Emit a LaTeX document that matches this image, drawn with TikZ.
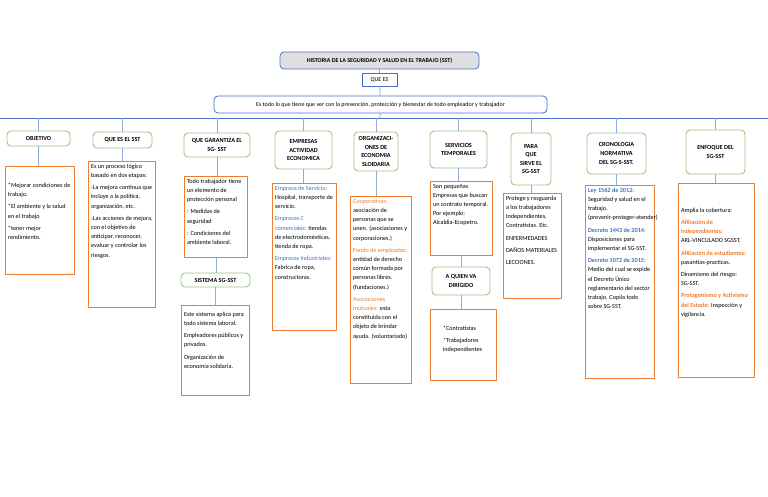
\documentclass[tikz,border=0pt]{standalone}
\usepackage{fontspec}
\setmainfont{Carlito}
\definecolor{bl}{RGB}{68,114,196}
\definecolor{og}{RGB}{237,125,49}
\definecolor{gr}{RGB}{112,173,71}
\definecolor{lbl}{RGB}{143,170,220}
\begin{document}
\begin{tikzpicture}[x=1pt,y=-1pt,
 hd/.style={draw=gr!70,line width=0.9pt,rounded corners=4pt,fill=white,font=\fontsize{6.2}{8.6}\selectfont\bfseries,align=center,inner sep=1pt},
 ob/.style={draw=og,line width=1pt,fill=white,font=\fontsize{6.2}{9.2}\selectfont,inner sep=2.5pt,anchor=north west},
 cn/.style={draw=lbl,line width=0.8pt},
 bx/.style={draw=bl,line width=0.8pt,fill=white,font=\fontsize{6}{7}\selectfont,align=center}]
\useasboundingbox (0,0) rectangle (768,497);
\newcommand{\B}[1]{\textcolor{bl}{#1}}
\newcommand{\Ob}[1]{\textcolor{og}{#1}}
\newcommand{\Tb}[3]{\parbox[t][#2pt][t]{#1pt}{\raggedright\hyphenpenalty=10000\exhyphenpenalty=10000 #3}}
% top
\node[bx,fill=gray!25,rounded corners=4pt,minimum width=199,minimum height=17,font=\fontsize{6}{7}\selectfont\bfseries] (title) at (379.5,60.5) {HISTORIA DE LA SEGURIDAD Y SALUD EN EL TRABAJO (SST)};
\node[bx,minimum width=35,minimum height=13] (quees) at (379.5,79.5) {QUE ES};
\node[bx,rounded corners=4pt,minimum width=333,minimum height=17] (desc) at (380.5,104.5) {Es todo lo que tiene que ver con la prevención, protección y bienestar de todo empleador y trabajador};
\draw[cn] (title) -- (quees); \draw[cn] (quees) -- (desc);
\coordinate (bus) at (380,118);
\coordinate (bl) at (0,118); \coordinate (br) at (768,118);
\draw[draw=bl,line width=0.8pt] (bl) -- (br);
\draw[cn] (desc) -- (bus);
% headers
\node[hd,minimum width=63,minimum height=15] (h1) at (38.5,138.5) {OBJETIVO};
\node[hd,minimum width=59,minimum height=16] (h2) at (122.5,140) {QUE ES EL SST};
\node[hd,minimum width=66,minimum height=24] (h3) at (217,145) {QUE GARANTIZA EL\\SG- SST};
\node[hd,minimum width=57,minimum height=38] (h4) at (303.5,150) {EMPRESAS\\ACTIVIDAD\\ECONOMICA};
\node[hd,minimum width=44,minimum height=39] (h5) at (376,151.5) {ORGANIZACI-\\ONES DE\\ECONOMIA\\SLOIDARIA};
\node[hd,minimum width=57,minimum height=37] (h6) at (458.5,149.5) {SERVICIOS\\TEMPORALES};
\node[hd,minimum width=40,minimum height=52] (h7) at (531,159) {PARA\\QUE\\SIRVE EL\\SG-SST};
\node[hd,minimum width=59,minimum height=41] (h8) at (616.5,153.5) {CRONOLOGIA\\NORMATIVA\\DEL SG-S-SST.};
\node[hd,minimum width=59,minimum height=44] (h9) at (715.5,152) {ENFOQUE DEL\\SG-SST};
\foreach \h in {h1,h2,h3,h4,h5,h6,h7,h8,h9}{\coordinate (t\h) at (\h.north|-bus); \draw[draw=bl!60,line width=0.8pt] (t\h) -- (\h.north);}
% bodies
\node[ob] (b1) at (5,166) {\Tb{64}{103}{\vspace*{14pt}*Mejorar condiciones de trabajo.\\[3pt]*El ambiente y la salud en el trabajo\\[3pt]*tener mejor rendimiento.}};
\node[ob] (b2) at (88,161) {\Tb{62}{141}{Es un proceso lógico basado en dos etapas:\\[3pt]\textcolor{red}{›}La mejora continua que incluye a la política, organización, etc.\\[3pt]\textcolor{red}{›}Las acciones de mejora, con el objetivo de anticipar, reconocer, evaluar y controlar los riesgos.}};
\node[ob] (b3) at (184,176) {\Tb{58}{76}{Todo trabajador tiene un elemento de protección personal\\[3pt]: Medidas de seguridad\\[3pt]: Condiciones del ambiente laboral.}};
\node[hd,minimum width=69,minimum height=14] (h3b) at (215.5,280) {SISTEMA SG-SST};
\node[ob] (b3b) at (181,305) {\Tb{63}{85}{\vspace*{4pt}Este sistema aplica para todo sistema laboral.\\[3pt]Empleadores públicos y privados.\\[3pt]Organización de economía solidaria.}};
\node[ob] (b4) at (272,183) {\Tb{59}{142}{\B{Empresa de Servicio:} Hospital, transporte de servicio.\\[3pt]\B{Empresas C comerciales:} tiendas de electrodomésticas, tienda de ropa.\\[3pt]\B{Empresas Industriales:} Fabrica de ropa, constructoras.}};
\node[ob] (b5) at (350,196) {\Tb{56}{182}{\Ob{Cooperativas:} asociación de personas que se unen. (asociaciones y corporaciones.)\\[3pt]\Ob{Fondo de empleados:} entidad de derecho común formada por personas libres. (fundaciones.)\\[3pt]\Ob{Asociaciones mutuales:} esta constituida con el objeto de brindar ayuda. (voluntariado)}};
\node[ob] (b6) at (430,181) {\Tb{57}{69}{Son pequeñas Empresas que buscan un contrato temporal. Por ejemplo: Alcaldia-Ecopetro.}};
\node[hd,minimum width=58,minimum height=28] (h6b) at (461,281) {A QUIEN VA\\DIRIGIDO};
\node[ob] (b6b) at (430,309) {\Tb{61}{66}{\vspace*{14pt}\hspace*{10pt}*Contratistas\\[3pt]\hspace*{10pt}*Trabajadores\\\hspace*{10pt}independientes}};
\node[ob] (b7) at (503,193) {\Tb{53}{100}{Protege y resguarda a los trabajadores Independientes, Contratistas. Etc.\\[3pt]ENFERMEDADES\\[3pt]DAÑOS MATERIALES\\[3pt]LECCIONES.}};
\node[ob] (b8) at (585,185) {\Tb{64}{188}{\B{\bfseries Ley 1562 de 2012:} Seguridad y salud en el trabajo. (prevenir-proteger-atender)\\[3pt]\B{\bfseries Decreto 1443 de 2014:} Disposiciones para implementar el SG-SST.\\[3pt]\B{\bfseries Decreto 1072 de 2015:} Medio del cual se expide el Decreto Único reglamentario del sector trabajo. Copila todo sobre SG-SST.}};
\node[ob] (b9) at (678,183) {\Tb{71}{189}{\vspace*{22pt}Amplia la cobertura:\\[3pt]\Ob{\bfseries Afiliación de independientes:} ARL-VINCULADO SGSST.\\[3pt]\Ob{\bfseries Afiliación de estudiantes:} pasantías-practicas.\\[3pt]Dinamismo del riesgo: SG-SST.\\[3pt]\Ob{\bfseries Protagonismo y Activismo del Estado:} Inspección y vigilancia.}};
\foreach \a/\b in {h1/b1,h2/b2,h3/b3,b3/h3b,h3b/b3b,h4/b4,h5/b5,h6/b6,b6/h6b,h6b/b6b,h7/b7,h8/b8,h9/b9}{\draw[cn] (\a.south) -- (\a.south|-\b.north);}
\end{tikzpicture}
\end{document}
